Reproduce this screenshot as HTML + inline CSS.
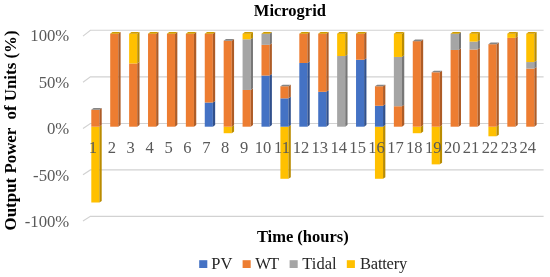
<!DOCTYPE html>
<html><head><meta charset="utf-8"><title>Microgrid</title>
<style>
html,body{margin:0;padding:0;background:#fff;}
svg{display:block;filter:blur(0.35px);}
text{font-family:"Liberation Serif","Times New Roman",serif;}
.ax{font-size:17.7px;fill:#595959;}
.ti{font-size:16.5px;font-weight:bold;fill:#000;}
.yt{font-size:16.9px;white-space:pre;}
.lg{font-size:16.5px;fill:#262626;}
</style></head><body>
<svg width="550" height="277" viewBox="0 0 550 277">
<rect width="550" height="277" fill="#fff"/>
<polyline points="83,36.1 90.4,30.2 543.6,30.2" fill="none" stroke="#D2D2D2" stroke-width="1.15"/>
<polyline points="83,82.3 90.4,76.8 543.6,76.8" fill="none" stroke="#D2D2D2" stroke-width="1.15"/>
<polyline points="83,128.5 90.4,123.45 543.6,123.45" fill="none" stroke="#D2D2D2" stroke-width="1.15"/>
<polyline points="83,174.8 90.4,169.9 543.6,169.9" fill="none" stroke="#D2D2D2" stroke-width="1.15"/>
<polyline points="83,221.1 90.4,216.3 543.6,216.3" fill="none" stroke="#D2D2D2" stroke-width="1.15"/>
<rect x="91.3" y="126.7" width="8.1" height="75.8" fill="#FFC000"/>
<polygon points="99.4,126.7 101.7,125.1 101.7,200.9 99.4,202.5" fill="#BA8C00"/>
<rect x="91.3" y="109.68" width="8.1" height="17.02" fill="#ED7D31"/>
<polygon points="99.4,109.68 101.7,108.08 101.7,125.1 99.4,126.7" fill="#AE5C26"/>
<polygon points="91.3,109.68 93.6,108.08 101.7,108.08 99.4,109.68" fill="#858585"/>
<rect x="110.21" y="33.7" width="8.1" height="93" fill="#ED7D31"/>
<polygon points="118.31,33.7 120.61,32.1 120.61,125.1 118.31,126.7" fill="#AE5C26"/>
<polygon points="110.21,33.7 112.51,32.1 120.61,32.1 118.31,33.7" fill="#D09D00"/>
<rect x="129.12" y="63.46" width="8.1" height="63.24" fill="#ED7D31"/>
<polygon points="137.22,63.46 139.52,61.86 139.52,125.1 137.22,126.7" fill="#AE5C26"/>
<rect x="129.12" y="33.7" width="8.1" height="29.76" fill="#FFC000"/>
<polygon points="137.22,33.7 139.52,32.1 139.52,61.86 137.22,63.46" fill="#BA8C00"/>
<polygon points="129.12,33.7 131.42,32.1 139.52,32.1 137.22,33.7" fill="#D09D00"/>
<rect x="148.03" y="33.7" width="8.1" height="93" fill="#ED7D31"/>
<polygon points="156.13,33.7 158.43,32.1 158.43,125.1 156.13,126.7" fill="#AE5C26"/>
<polygon points="148.03,33.7 150.33,32.1 158.43,32.1 156.13,33.7" fill="#D09D00"/>
<rect x="166.94" y="33.7" width="8.1" height="93" fill="#ED7D31"/>
<polygon points="175.04,33.7 177.34,32.1 177.34,125.1 175.04,126.7" fill="#AE5C26"/>
<polygon points="166.94,33.7 169.24,32.1 177.34,32.1 175.04,33.7" fill="#D09D00"/>
<rect x="185.85" y="33.7" width="8.1" height="93" fill="#ED7D31"/>
<polygon points="193.95,33.7 196.25,32.1 196.25,125.1 193.95,126.7" fill="#AE5C26"/>
<polygon points="185.85,33.7 188.15,32.1 196.25,32.1 193.95,33.7" fill="#D09D00"/>
<rect x="204.76" y="102.52" width="8.1" height="24.18" fill="#4472C4"/>
<polygon points="212.86,102.52 215.16,100.92 215.16,125.1 212.86,126.7" fill="#30508C"/>
<rect x="204.76" y="33.7" width="8.1" height="68.82" fill="#ED7D31"/>
<polygon points="212.86,33.7 215.16,32.1 215.16,100.92 212.86,102.52" fill="#AE5C26"/>
<polygon points="204.76,33.7 207.06,32.1 215.16,32.1 212.86,33.7" fill="#D09D00"/>
<rect x="223.67" y="126.7" width="8.1" height="6.51" fill="#FFC000"/>
<polygon points="231.77,126.7 234.07,125.1 234.07,131.61 231.77,133.21" fill="#BA8C00"/>
<rect x="223.67" y="40.67" width="8.1" height="86.03" fill="#ED7D31"/>
<polygon points="231.77,40.67 234.07,39.07 234.07,125.1 231.77,126.7" fill="#AE5C26"/>
<polygon points="223.67,40.67 225.97,39.07 234.07,39.07 231.77,40.67" fill="#858585"/>
<rect x="242.58" y="89.97" width="8.1" height="36.73" fill="#ED7D31"/>
<polygon points="250.68,89.97 252.98,88.37 252.98,125.1 250.68,126.7" fill="#AE5C26"/>
<rect x="242.58" y="39.28" width="8.1" height="50.69" fill="#A5A5A5"/>
<polygon points="250.68,39.28 252.98,37.68 252.98,88.37 250.68,89.97" fill="#777777"/>
<rect x="242.58" y="33.7" width="8.1" height="5.58" fill="#FFC000"/>
<polygon points="250.68,33.7 252.98,32.1 252.98,37.68 250.68,39.28" fill="#BA8C00"/>
<polygon points="242.58,33.7 244.88,32.1 252.98,32.1 250.68,33.7" fill="#D09D00"/>
<rect x="261.49" y="75.55" width="8.1" height="51.15" fill="#4472C4"/>
<polygon points="269.59,75.55 271.89,73.95 271.89,125.1 269.59,126.7" fill="#30508C"/>
<rect x="261.49" y="44.86" width="8.1" height="30.69" fill="#ED7D31"/>
<polygon points="269.59,44.86 271.89,43.26 271.89,73.95 269.59,75.55" fill="#AE5C26"/>
<rect x="261.49" y="33.7" width="8.1" height="11.16" fill="#A5A5A5"/>
<polygon points="269.59,33.7 271.89,32.1 271.89,43.26 269.59,44.86" fill="#777777"/>
<polygon points="261.49,33.7 263.79,32.1 271.89,32.1 269.59,33.7" fill="#D09D00"/>
<rect x="280.4" y="126.7" width="8.1" height="52.08" fill="#FFC000"/>
<polygon points="288.5,126.7 290.8,125.1 290.8,177.18 288.5,178.78" fill="#BA8C00"/>
<rect x="280.4" y="98.34" width="8.1" height="28.36" fill="#4472C4"/>
<polygon points="288.5,98.34 290.8,96.74 290.8,125.1 288.5,126.7" fill="#30508C"/>
<rect x="280.4" y="86.25" width="8.1" height="12.09" fill="#ED7D31"/>
<polygon points="288.5,86.25 290.8,84.65 290.8,96.74 288.5,98.34" fill="#AE5C26"/>
<polygon points="280.4,86.25 282.7,84.65 290.8,84.65 288.5,86.25" fill="#858585"/>
<rect x="299.31" y="62.99" width="8.1" height="63.71" fill="#4472C4"/>
<polygon points="307.41,62.99 309.71,61.39 309.71,125.1 307.41,126.7" fill="#30508C"/>
<rect x="299.31" y="33.7" width="8.1" height="29.29" fill="#ED7D31"/>
<polygon points="307.41,33.7 309.71,32.1 309.71,61.39 307.41,62.99" fill="#AE5C26"/>
<polygon points="299.31,33.7 301.61,32.1 309.71,32.1 307.41,33.7" fill="#D09D00"/>
<rect x="318.22" y="91.83" width="8.1" height="34.88" fill="#4472C4"/>
<polygon points="326.32,91.83 328.62,90.23 328.62,125.1 326.32,126.7" fill="#30508C"/>
<rect x="318.22" y="33.7" width="8.1" height="58.12" fill="#ED7D31"/>
<polygon points="326.32,33.7 328.62,32.1 328.62,90.23 326.32,91.83" fill="#AE5C26"/>
<polygon points="318.22,33.7 320.52,32.1 328.62,32.1 326.32,33.7" fill="#D09D00"/>
<rect x="337.13" y="56.02" width="8.1" height="70.68" fill="#A5A5A5"/>
<polygon points="345.23,56.02 347.53,54.42 347.53,125.1 345.23,126.7" fill="#777777"/>
<rect x="337.13" y="33.7" width="8.1" height="22.32" fill="#FFC000"/>
<polygon points="345.23,33.7 347.53,32.1 347.53,54.42 345.23,56.02" fill="#BA8C00"/>
<polygon points="337.13,33.7 339.43,32.1 347.53,32.1 345.23,33.7" fill="#D09D00"/>
<rect x="356.04" y="59.74" width="8.1" height="66.96" fill="#4472C4"/>
<polygon points="364.14,59.74 366.44,58.14 366.44,125.1 364.14,126.7" fill="#30508C"/>
<rect x="356.04" y="33.7" width="8.1" height="26.04" fill="#ED7D31"/>
<polygon points="364.14,33.7 366.44,32.1 366.44,58.14 364.14,59.74" fill="#AE5C26"/>
<polygon points="356.04,33.7 358.34,32.1 366.44,32.1 364.14,33.7" fill="#D09D00"/>
<rect x="374.95" y="126.7" width="8.1" height="52.08" fill="#FFC000"/>
<polygon points="383.05,126.7 385.35,125.1 385.35,177.18 383.05,178.78" fill="#BA8C00"/>
<rect x="374.95" y="105.78" width="8.1" height="20.92" fill="#4472C4"/>
<polygon points="383.05,105.78 385.35,104.18 385.35,125.1 383.05,126.7" fill="#30508C"/>
<rect x="374.95" y="86.25" width="8.1" height="19.53" fill="#ED7D31"/>
<polygon points="383.05,86.25 385.35,84.65 385.35,104.18 383.05,105.78" fill="#AE5C26"/>
<polygon points="374.95,86.25 377.25,84.65 385.35,84.65 383.05,86.25" fill="#858585"/>
<rect x="393.86" y="106.24" width="8.1" height="20.46" fill="#ED7D31"/>
<polygon points="401.96,106.24 404.26,104.64 404.26,125.1 401.96,126.7" fill="#AE5C26"/>
<rect x="393.86" y="56.95" width="8.1" height="49.29" fill="#A5A5A5"/>
<polygon points="401.96,56.95 404.26,55.35 404.26,104.64 401.96,106.24" fill="#777777"/>
<rect x="393.86" y="33.7" width="8.1" height="23.25" fill="#FFC000"/>
<polygon points="401.96,33.7 404.26,32.1 404.26,55.35 401.96,56.95" fill="#BA8C00"/>
<polygon points="393.86,33.7 396.16,32.1 404.26,32.1 401.96,33.7" fill="#D09D00"/>
<rect x="412.77" y="126.7" width="8.1" height="6.51" fill="#FFC000"/>
<polygon points="420.87,126.7 423.17,125.1 423.17,131.61 420.87,133.21" fill="#BA8C00"/>
<rect x="412.77" y="41.14" width="8.1" height="85.56" fill="#ED7D31"/>
<polygon points="420.87,41.14 423.17,39.54 423.17,125.1 420.87,126.7" fill="#AE5C26"/>
<polygon points="412.77,41.14 415.07,39.54 423.17,39.54 420.87,41.14" fill="#858585"/>
<rect x="431.68" y="126.7" width="8.1" height="37.67" fill="#FFC000"/>
<polygon points="439.78,126.7 442.08,125.1 442.08,162.77 439.78,164.37" fill="#BA8C00"/>
<rect x="431.68" y="72.3" width="8.1" height="54.41" fill="#ED7D31"/>
<polygon points="439.78,72.3 442.08,70.7 442.08,125.1 439.78,126.7" fill="#AE5C26"/>
<polygon points="431.68,72.3 433.98,70.7 442.08,70.7 439.78,72.3" fill="#858585"/>
<rect x="450.59" y="49.97" width="8.1" height="76.73" fill="#ED7D31"/>
<polygon points="458.69,49.97 460.99,48.37 460.99,125.1 458.69,126.7" fill="#AE5C26"/>
<rect x="450.59" y="33.7" width="8.1" height="16.27" fill="#A5A5A5"/>
<polygon points="458.69,33.7 460.99,32.1 460.99,48.37 458.69,49.97" fill="#777777"/>
<polygon points="450.59,33.7 452.89,32.1 460.99,32.1 458.69,33.7" fill="#D09D00"/>
<rect x="469.5" y="49.51" width="8.1" height="77.19" fill="#ED7D31"/>
<polygon points="477.6,49.51 479.9,47.91 479.9,125.1 477.6,126.7" fill="#AE5C26"/>
<rect x="469.5" y="41.61" width="8.1" height="7.91" fill="#A5A5A5"/>
<polygon points="477.6,41.61 479.9,40.01 479.9,47.91 477.6,49.51" fill="#777777"/>
<rect x="469.5" y="33.7" width="8.1" height="7.91" fill="#FFC000"/>
<polygon points="477.6,33.7 479.9,32.1 479.9,40.01 477.6,41.61" fill="#BA8C00"/>
<polygon points="469.5,33.7 471.8,32.1 479.9,32.1 477.6,33.7" fill="#D09D00"/>
<rect x="488.41" y="126.7" width="8.1" height="9.58" fill="#FFC000"/>
<polygon points="496.51,126.7 498.81,125.1 498.81,134.68 496.51,136.28" fill="#BA8C00"/>
<rect x="488.41" y="44.21" width="8.1" height="82.49" fill="#ED7D31"/>
<polygon points="496.51,44.21 498.81,42.61 498.81,125.1 496.51,126.7" fill="#AE5C26"/>
<polygon points="488.41,44.21 490.71,42.61 498.81,42.61 496.51,44.21" fill="#858585"/>
<rect x="507.32" y="37.89" width="8.1" height="88.81" fill="#ED7D31"/>
<polygon points="515.42,37.89 517.72,36.29 517.72,125.1 515.42,126.7" fill="#AE5C26"/>
<rect x="507.32" y="33.7" width="8.1" height="4.19" fill="#FFC000"/>
<polygon points="515.42,33.7 517.72,32.1 517.72,36.29 515.42,37.89" fill="#BA8C00"/>
<polygon points="507.32,33.7 509.62,32.1 517.72,32.1 515.42,33.7" fill="#D09D00"/>
<rect x="526.23" y="68.58" width="8.1" height="58.12" fill="#ED7D31"/>
<polygon points="534.33,68.58 536.63,66.98 536.63,125.1 534.33,126.7" fill="#AE5C26"/>
<rect x="526.23" y="62.06" width="8.1" height="6.51" fill="#A5A5A5"/>
<polygon points="534.33,62.06 536.63,60.46 536.63,66.98 534.33,68.58" fill="#777777"/>
<rect x="526.23" y="33.7" width="8.1" height="28.36" fill="#FFC000"/>
<polygon points="534.33,33.7 536.63,32.1 536.63,60.46 534.33,62.06" fill="#BA8C00"/>
<polygon points="526.23,33.7 528.53,32.1 536.63,32.1 534.33,33.7" fill="#D09D00"/>
<text transform="translate(92.89,153.2) scale(0.935,1)" text-anchor="middle" class="ax">1</text>
<text transform="translate(111.8,153.2) scale(0.935,1)" text-anchor="middle" class="ax">2</text>
<text transform="translate(130.71,153.2) scale(0.935,1)" text-anchor="middle" class="ax">3</text>
<text transform="translate(149.62,153.2) scale(0.935,1)" text-anchor="middle" class="ax">4</text>
<text transform="translate(168.53,153.2) scale(0.935,1)" text-anchor="middle" class="ax">5</text>
<text transform="translate(187.44,153.2) scale(0.935,1)" text-anchor="middle" class="ax">6</text>
<text transform="translate(206.35,153.2) scale(0.935,1)" text-anchor="middle" class="ax">7</text>
<text transform="translate(225.26,153.2) scale(0.935,1)" text-anchor="middle" class="ax">8</text>
<text transform="translate(244.17,153.2) scale(0.935,1)" text-anchor="middle" class="ax">9</text>
<text transform="translate(263.08,153.2) scale(0.935,1)" text-anchor="middle" class="ax">10</text>
<text transform="translate(281.99,153.2) scale(0.935,1)" text-anchor="middle" class="ax">11</text>
<text transform="translate(300.9,153.2) scale(0.935,1)" text-anchor="middle" class="ax">12</text>
<text transform="translate(319.81,153.2) scale(0.935,1)" text-anchor="middle" class="ax">13</text>
<text transform="translate(338.72,153.2) scale(0.935,1)" text-anchor="middle" class="ax">14</text>
<text transform="translate(357.63,153.2) scale(0.935,1)" text-anchor="middle" class="ax">15</text>
<text transform="translate(376.54,153.2) scale(0.935,1)" text-anchor="middle" class="ax">16</text>
<text transform="translate(395.45,153.2) scale(0.935,1)" text-anchor="middle" class="ax">17</text>
<text transform="translate(414.36,153.2) scale(0.935,1)" text-anchor="middle" class="ax">18</text>
<text transform="translate(433.27,153.2) scale(0.935,1)" text-anchor="middle" class="ax">19</text>
<text transform="translate(452.18,153.2) scale(0.935,1)" text-anchor="middle" class="ax">20</text>
<text transform="translate(471.09,153.2) scale(0.935,1)" text-anchor="middle" class="ax">21</text>
<text transform="translate(490,153.2) scale(0.935,1)" text-anchor="middle" class="ax">22</text>
<text transform="translate(508.91,153.2) scale(0.935,1)" text-anchor="middle" class="ax">23</text>
<text transform="translate(527.82,153.2) scale(0.935,1)" text-anchor="middle" class="ax">24</text>
<text transform="translate(69.3,41.35) scale(0.945,1)" text-anchor="end" class="ax">100%</text>
<text transform="translate(69.3,87.78) scale(0.945,1)" text-anchor="end" class="ax">50%</text>
<text transform="translate(69.3,134.21) scale(0.945,1)" text-anchor="end" class="ax">0%</text>
<text transform="translate(69.3,180.64) scale(0.945,1)" text-anchor="end" class="ax">-50%</text>
<text transform="translate(69.3,227.07) scale(0.945,1)" text-anchor="end" class="ax">-100%</text>
<text x="289.9" y="15.9" text-anchor="middle" class="ti">Microgrid</text>
<text x="302.8" y="242.4" text-anchor="middle" class="ti">Time (hours)</text>
<text transform="translate(16.1,130.4) rotate(-90)" xml:space="preserve" text-anchor="middle" class="ti yt">Output Power  of Units (%)</text>
<rect x="199.2" y="260.2" width="8.1" height="7.8" fill="#4472C4"/>
<text x="211.3" y="269.1" class="lg">PV</text>
<rect x="242.6" y="260.2" width="8.1" height="7.8" fill="#ED7D31"/>
<text x="255.2" y="269.1" class="lg">W<tspan dx="-1.7">T</tspan></text>
<rect x="289.6" y="260.2" width="8.1" height="7.8" fill="#A5A5A5"/>
<text x="302.3" y="269.1" class="lg">Tidal</text>
<rect x="346.8" y="260.2" width="8.1" height="7.8" fill="#FFC000"/>
<text x="360" y="269.1" class="lg" letter-spacing="-0.22">Battery</text>
</svg>
</body></html>
